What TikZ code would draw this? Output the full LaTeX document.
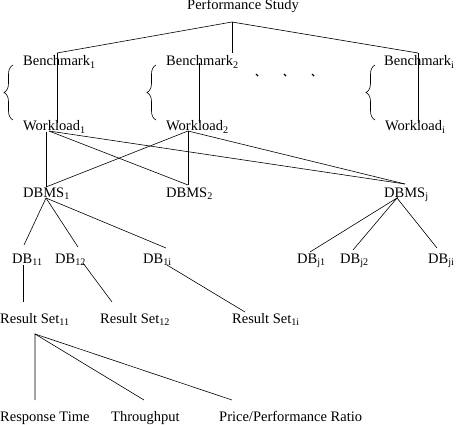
\documentclass[tikz,border=0pt]{standalone}
\usepackage{fontspec}
\setmainfont{Liberation Serif}
\usetikzlibrary{decorations.pathreplacing}

\tikzset{
  lbl/.style={anchor=base west, inner sep=0pt, font=\fontsize{14.5}{16}\selectfont},
  conn/.style={line width=0.6pt},
  brc/.style={line width=0.6pt, decorate, decoration={brace, amplitude=9pt}}
}
\newcommand{\sbs}[1]{\textsubscript{#1}}

\begin{document}
\begin{tikzpicture}[x=1pt, y=-1pt]
  \useasboundingbox (0,0) rectangle (474,425);

  % labels
  \node[lbl] (perf) at (187,10) {Performance Study};
  \node[lbl] (bm1) at (23,66) {Benchmark\sbs{1}};
  \node[lbl] (bm2) at (166,66) {Benchmark\sbs{2}};
  \node[lbl] (bmi) at (384,66) {Benchmark\sbs{i}};
  \node[lbl] (wl1) at (23,131) {Workload\sbs{1}};
  \node[lbl] (wl2) at (166,131) {Workload\sbs{2}};
  \node[lbl] (wli) at (385,131) {Workload\sbs{i}};
  \node[lbl] (dbms1) at (23,197) {DBMS\sbs{1}};
  \node[lbl] (dbms2) at (166,197) {DBMS\sbs{2}};
  \node[lbl] (dbmsj) at (384,197) {DBMS\sbs{j}};
  \node[lbl] (db11) at (12,263) {DB\sbs{11}};
  \node[lbl] (db12) at (55,263) {DB\sbs{12}};
  \node[lbl] (db1i) at (143,263) {DB\sbs{1i}};
  \node[lbl] (dbj1) at (297,263) {DB\sbs{j1}};
  \node[lbl] (dbj2) at (340,263) {DB\sbs{j2}};
  \node[lbl] (dbji) at (428,263) {DB\sbs{ji}};
  \node[lbl] (rs11) at (0,323) {Result Set\sbs{11}};
  \node[lbl] (rs12) at (100,323) {Result Set\sbs{12}};
  \node[lbl] (rs1i) at (232,323) {Result Set\sbs{1i}};
  \node[lbl] (rt) at (0,421) {Response Time};
  \node[lbl] (tp) at (111,421) {Throughput};
  \node[lbl] (ppr) at (219,421) {Price/Performance Ratio};

  % junction points
  \coordinate (perfj) at (232,22);
  \coordinate (bm1t) at (57,53);   \coordinate (bm1b) at (57,123);
  \coordinate (bm2t) at (232,53);
  \coordinate (bm2u) at (199,63);  \coordinate (bm2b) at (199,123);
  \coordinate (bmit) at (418,53);  \coordinate (bmib) at (418,123);
  \coordinate (wl1j) at (46,132);  \coordinate (wl1k) at (49,131);
  \coordinate (wl2j) at (188,131);
  \coordinate (dbms1t) at (46,187);
  \coordinate (dbms2t) at (188,185);
  \coordinate (dbmsjt) at (405,184);
  \coordinate (dbms1j) at (46,198);
  \coordinate (dbmsjj) at (397,198);
  \coordinate (db11t) at (24,245);
  \coordinate (db12t) at (78,247);
  \coordinate (db1it) at (166,248);
  \coordinate (dbj1t) at (310,252);
  \coordinate (dbj2t) at (353,250);
  \coordinate (dbjit) at (437,248);
  \coordinate (db11b) at (23,265);  \coordinate (rs11t) at (23,302);
  \coordinate (db12b) at (83,263);  \coordinate (rs12t) at (112,302);
  \coordinate (db1ib) at (167,265); \coordinate (rs1it) at (245,312);
  \coordinate (rs11j) at (35,334);
  \coordinate (rtt) at (35,400);
  \coordinate (tpt) at (144,400);
  \coordinate (pprt) at (232,400);

  % connectors
  \draw[conn] (bm1t) -- (perfj) -- (bmit);
  \draw[conn] (perfj) -- (bm2t);
  \draw[conn] (bm1t) -- (bm1b);
  \draw[conn] (bm2u) -- (bm2b);
  \draw[conn] (bmit) -- (bmib);
  \draw[conn] (wl1j) -- (dbms1t);
  \draw[conn] (wl1k) -- (dbms2t);
  \draw[conn] (wl1k) -- (dbmsjt);
  \draw[conn] (wl2j) -- (dbms1t);
  \draw[conn] (wl2j) -- (dbms2t);
  \draw[conn] (wl2j) -- (dbmsjt);
  \draw[conn] (db11t) -- (dbms1j) -- (db12t);
  \draw[conn] (dbms1j) -- (db1it);
  \draw[conn] (dbj1t) -- (dbmsjj) -- (dbj2t);
  \draw[conn] (dbmsjj) -- (dbjit);
  \draw[conn] (db11b) -- (rs11t);
  \draw[conn] (db12b) -- (rs12t);
  \draw[conn] (db1ib) -- (rs1it);
  \draw[conn] (rtt) -- (rs11j) -- (tpt);
  \draw[conn] (rs11j) -- (pprt);

  % braces and dots
  \draw[brc] (13,120) -- (13,65);
  \draw[brc] (156,120) -- (156,65);
  \draw[brc] (375,120) -- (375,65);
  \foreach \dx in {257,285,313}
    \draw[line width=1.3pt] (\dx-1,74) -- (\dx+1,76);
\end{tikzpicture}
\end{document}
